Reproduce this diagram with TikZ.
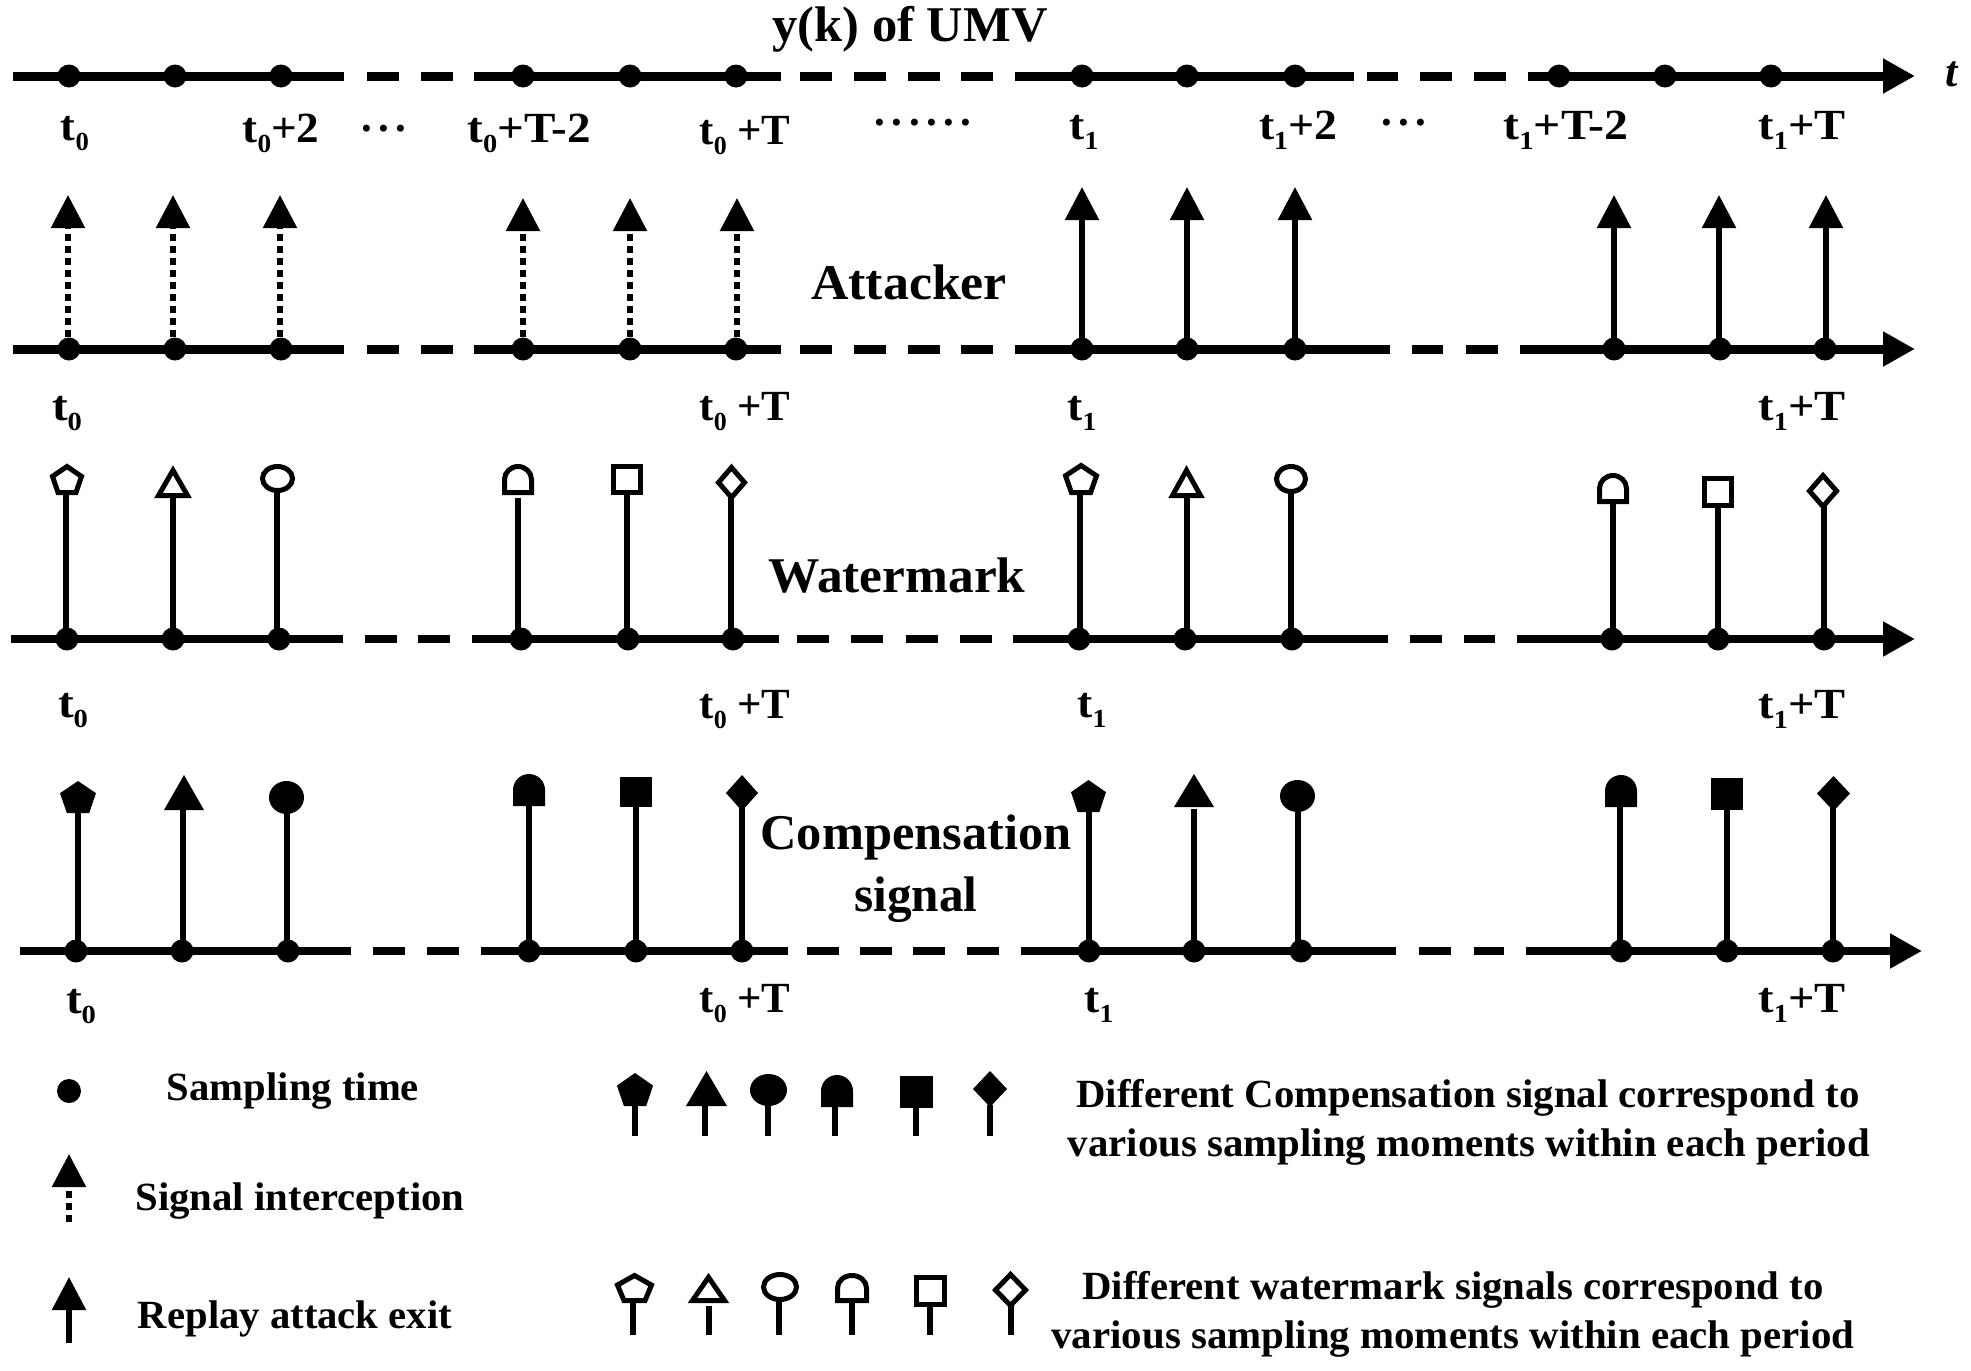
\documentclass[tikz,border=0pt]{standalone}
\usepackage{fontspec}
\usepackage{graphicx}
\setmainfont{Liberation Serif}
\usetikzlibrary{arrows.meta}
\tikzset{
  dotnode/.style={circle,fill=black,inner sep=0pt,minimum size=23pt},
  axisA/.style={line width=9pt,line cap=butt},
  axisB/.style={line width=8pt,line cap=butt},
  stemline/.style={line width=5.5pt,line cap=butt},
  dotline/.style={line width=5.5pt,dash pattern=on 7pt off 5pt},
  headA/.style={-{Triangle[length=33pt,width=33pt]}},
  axhead/.style={-{Triangle[length=32pt,width=#1]}},
  symf/.style={fill=black,draw=none},
  symo/.style={fill=white,draw=black,line width=5pt,line join=miter},
  lbl/.style={anchor=base,inner sep=0pt,font=\fontsize{43}{50}\selectfont\bfseries},
  ttl/.style={anchor=base,inner sep=0pt,font=\fontsize{50}{58}\selectfont\bfseries},
  leg/.style={anchor=base,inner sep=0pt,font=\fontsize{40}{48}\selectfont\bfseries}
}
\newcommand{\fitw}[2]{\resizebox{#1pt}{\height}{#2}}
\newcommand{\sbs}[1]{\raisebox{-10pt}{\fontsize{26}{30}\selectfont #1}}
\newcommand{\dotgap}{\hskip6.4pt}
% symbol geometry: outer box x1 x2 y1 y2
\newcommand{\mkbox}[5]{%
  \pgfmathsetmacro\xa{#1+#5}\pgfmathsetmacro\xb{#2-#5}%
  \pgfmathsetmacro\ya{#3+#5}\pgfmathsetmacro\yb{#4-#5}%
  \pgfmathsetmacro\xm{(\xa+\xb)/2}\pgfmathsetmacro\ym{(\ya+\yb)/2}%
  \pgfmathsetmacro\rx{(\xb-\xa)/2}\pgfmathsetmacro\ry{(\yb-\ya)/2}}
\newcommand{\drawpent}{\pgfmathsetmacro\ys{\ya+0.38*(\yb-\ya)}\pgfmathsetmacro\xl{\xm-0.62*\rx}\pgfmathsetmacro\xr{\xm+0.62*\rx}%
  \path[cursym] (\xm,\ya)--(\xb,\ys)--(\xr,\yb)--(\xl,\yb)--(\xa,\ys)--cycle;}
\newcommand{\drawtri}{\pgfmathsetmacro\ytt{\ya+\triextra*1.6}\pgfmathsetmacro\xll{\xa+\triextra}\pgfmathsetmacro\xrr{\xb-\triextra}%
  \path[cursym] (\xm,\ytt)--(\xrr,\yb)--(\xll,\yb)--cycle;}
\newcommand{\drawell}{\path[cursym] (\xm,\ym) ellipse [x radius=\rx pt,y radius=\ry pt];}
\newcommand{\drawarch}{\path[cursym] (\xa,\yb)--(\xb,\yb)--(\xb,\ym) arc [start angle=0,end angle=180,x radius=\rx pt,y radius=\ry pt]--cycle;}
\newcommand{\drawsq}{\path[cursym] (\xa,\ya) rectangle (\xb,\yb);}
\newcommand{\drawdia}{\path[cursym] (\xm,\ya)--(\xb,\ym)--(\xm,\yb)--(\xa,\ym)--cycle;}
\newcommand{\SymF}[5]{\tikzset{cursym/.style={symf}}\def\triextra{0}\mkbox{#2}{#3}{#4}{#5}{0}\csname draw#1\endcsname}
\newcommand{\SymO}[5]{\tikzset{cursym/.style={symo}}\def\triextra{3}\mkbox{#2}{#3}{#4}{#5}{2.5}\csname draw#1\endcsname}
% stem from a named dot straight up to a named end point
\newcommand{\Stem}[3]{\coordinate (#1-top) at (#2,#3);\draw[stemline] (#1-top |- #1) -- (#1-top);}
\newcommand{\UpArrow}[3]{\coordinate (#1-tip) at (#2,#3);\draw[stemline,headA] (#1-tip |- #1) -- (#1-tip);}
\newcommand{\DotArrow}[3]{\coordinate (#1-tip) at (#2,#3);\draw[dotline,headA] (#1-tip |- #1) -- (#1-tip);}
\begin{document}
\begin{tikzpicture}[x=1pt,y=-1pt]
\useasboundingbox (0,0) rectangle (1971,1371);

% ---------- row 1 ----------
\foreach \a/\b in {13/344,367/399,421/453,474/781,800/832,854/886,908/940,961/993,1015/1354,1367/1398,1420/1452,1474/1506}
  \draw[axisA] (\a,76) -- (\b,76);
\coordinate (r1s) at (1528,76);\coordinate (r1e) at (1915,76);
\draw[axisA,axhead=33pt] (r1s) -- (r1e);
\foreach \n/\x in {a1/69,a2/175,a3/281,a4/523,a5/630,a6/736,a7/1082,a8/1187,a9/1295,a10/1559,a11/1665,a12/1771}
  \node[dotnode] (\n) at (\x,76) {};
\node[ttl] (title) at (910,41) {\fitw{275}{y(k) of UMV}};
\node[anchor=base,inner sep=0pt,font=\fontsize{44}{50}\selectfont\bfseries\itshape] (tlab) at (1952,86) {t};
\node[lbl] (l1a) at (75,140) {\fitw{28}{t\sbs{0}}};
\node[lbl] (l1b) at (281,142) {\fitw{77}{t\sbs{0}+2}};
\node[lbl] (l1c) at (384,131) {.\dotgap.\dotgap.};
\node[lbl] (l1d) at (529,142) {\fitw{123}{t\sbs{0}+T-2}};
\node[lbl] (l1e) at (745,144) {\fitw{91}{t\sbs{0} +T}};
\node[lbl] (l1f) at (923,125) {.\dotgap.\dotgap.\dotgap.\dotgap.\dotgap.};
\node[lbl] (l1g) at (1084,139) {\fitw{29}{t\sbs{1}}};
\node[lbl] (l1h) at (1298,139) {\fitw{78}{t\sbs{1}+2}};
\node[lbl] (l1i) at (1404,125) {.\dotgap.\dotgap.};
\node[lbl] (l1j) at (1566,139) {\fitw{125}{t\sbs{1}+T-2}};
\node[lbl] (l1k) at (1802,139) {\fitw{87}{t\sbs{1}+T}};

% ---------- row 2 : attacker ----------
\foreach \a/\b in {13/344,367/399,421/453,474/781,800/832,854/886,908/940,961/993,1015/1390,1412/1443,1466/1498}
  \draw[axisA] (\a,349) -- (\b,349);
\coordinate (r2s) at (1520,349);\coordinate (r2e) at (1915,349);
\draw[axisA,axhead=33pt] (r2s) -- (r2e);
\foreach \n/\x in {b1/69,b2/175,b3/281,b4/523,b5/630,b6/736,b7/1082,b8/1187,b9/1295,b10/1614,b11/1720,b12/1825}
  \node[dotnode] (\n) at (\x,349) {};
\DotArrow{b1}{68}{195}\DotArrow{b2}{173}{195}\DotArrow{b3}{280}{195}
\DotArrow{b4}{523}{198}\DotArrow{b5}{630}{198}\DotArrow{b6}{737}{198}
\UpArrow{b7}{1082}{187}\UpArrow{b8}{1187}{187}\UpArrow{b9}{1295}{187}
\UpArrow{b10}{1614}{195}\UpArrow{b11}{1719}{195}\UpArrow{b12}{1826}{195}
\node[ttl] (attacker) at (909,299) {\fitw{196}{Attacker}};
\node[lbl] (l2a) at (67,420) {\fitw{30}{t\sbs{0}}};
\node[lbl] (l2b) at (745,420) {\fitw{91}{t\sbs{0} +T}};
\node[lbl] (l2c) at (1082,420) {\fitw{29}{t\sbs{1}}};
\node[lbl] (l2d) at (1802,420) {\fitw{87}{t\sbs{1}+T}};

% ---------- row 3 : watermark ----------
\foreach \a/\b in {11/343,365/397,418/450,472/779,797/829,851/883,906/938,960/992,1013/1388,1410/1442,1464/1495}
  \draw[axisB] (\a,639) -- (\b,639);
\coordinate (r3s) at (1517,639);\coordinate (r3e) at (1915,639);
\draw[axisB,axhead=33pt] (r3s) -- (r3e);
\foreach \n/\x in {c1/67,c2/173,c3/279,c4/521,c5/628,c6/733,c7/1079,c8/1185,c9/1292,c10/1612,c11/1718,c12/1824}
  \node[dotnode] (\n) at (\x,639) {};
\Stem{c1}{66}{493}\Stem{c2}{173}{496}\Stem{c3}{277}{491}
\Stem{c4}{518}{498}\Stem{c5}{627}{493}\Stem{c6}{731}{496}
\Stem{c7}{1080}{493}\Stem{c8}{1187}{496}\Stem{c9}{1291}{492}
\Stem{c10}{1613}{502}\Stem{c11}{1718}{506}\Stem{c12}{1824}{505}
\SymO{pent}{50}{84}{464}{495}\SymO{tri}{153}{193}{463}{498}\SymO{ell}{260}{295}{464}{493}
\SymO{arch}{502}{534}{464}{495}\SymO{sq}{611}{643}{464}{495}\SymO{dia}{716}{747}{465}{500}
\SymO{pent}{1063}{1099}{463}{495}\SymO{tri}{1167}{1206}{463}{498}\SymO{ell}{1274}{1308}{464}{494}
\SymO{arch}{1597}{1629}{473}{504}\SymO{sq}{1702}{1734}{476}{508}\SymO{dia}{1807}{1839}{473}{509}
\node[ttl] (watermark) at (897,592) {\fitw{257}{Watermark}};
\node[lbl] (l3a) at (73,717) {\fitw{30}{t\sbs{0}}};
\node[lbl] (l3b) at (745,718) {\fitw{91}{t\sbs{0} +T}};
\node[lbl] (l3c) at (1092,717) {\fitw{29}{t\sbs{1}}};
\node[lbl] (l3d) at (1802,718) {\fitw{87}{t\sbs{1}+T}};

% ---------- row 4 : compensation ----------
\foreach \a/\b in {20/351,373/405,427/459,481/788,807/839,860/892,913/945,967/999,1021/1396,1419/1451,1474/1504}
  \draw[axisB] (\a,951) -- (\b,951);
\coordinate (r4s) at (1526,951);\coordinate (r4e) at (1922,951);
\draw[axisB,axhead=33pt] (r4s) -- (r4e);
\foreach \n/\x in {d1/76,d2/182,d3/288,d4/529,d5/636,d6/742,d7/1089,d8/1194,d9/1301,d10/1621,d11/1727,d12/1833}
  \node[dotnode] (\n) at (\x,951) {};
\Stem{d1}{78}{812}\Stem{d2}{183}{809}\Stem{d3}{287}{812}
\Stem{d4}{529}{805}\Stem{d5}{636}{806}\Stem{d6}{742}{808}
\Stem{d7}{1089}{811}\Stem{d8}{1194}{809}\Stem{d9}{1298}{810}
\Stem{d10}{1620}{806}\Stem{d11}{1727}{809}\Stem{d12}{1833}{808}
\SymF{pent}{60}{96}{781}{813}\SymF{tri}{164}{204}{775}{810}\SymF{ell}{269}{304}{781}{814}
\SymF{arch}{513}{545}{774}{806}\SymF{sq}{620}{652}{777}{807}\SymF{dia}{726}{758}{775}{811}
\SymF{pent}{1071}{1106}{780}{812}\SymF{tri}{1174}{1214}{774}{807}\SymF{ell}{1280}{1315}{780}{812}
\SymF{arch}{1605}{1637}{775}{807}\SymF{sq}{1711}{1743}{778}{810}\SymF{dia}{1817}{1850}{776}{811}
\node[ttl] (comp) at (916,849) {\fitw{311}{Compensation}};
\node[ttl] (sig) at (916,911) {\fitw{123}{signal}};
\node[lbl] (l4a) at (81,1013) {\fitw{30}{t\sbs{0}}};
\node[lbl] (l4b) at (745,1012) {\fitw{91}{t\sbs{0} +T}};
\node[lbl] (l4c) at (1099,1012) {\fitw{29}{t\sbs{1}}};
\node[lbl] (l4d) at (1802,1012) {\fitw{87}{t\sbs{1}+T}};

% ---------- legend ----------
\node[dotnode,minimum size=24pt] (ldot) at (69,1091) {};
\node[leg] (lt1) at (293,1100) {\fitw{252}{Sampling time}};
\coordinate (la1s) at (69,1222);\coordinate (la1e) at (69,1154);
\draw[dotline,headA] (la1s) -- (la1e);
\node[leg] (lt2) at (300,1210) {\fitw{329}{Signal interception}};
\coordinate (la2s) at (69,1343);\coordinate (la2e) at (69,1277);
\draw[stemline,headA] (la2s) -- (la2e);
\node[leg] (lt3) at (295,1328) {\fitw{314}{Replay attack exit}};

% filled legend symbols
\foreach \n/\x/\t in {e1/635/1105,e2/705/1105,e3/768/1104,e4/835/1106,e5/916/1107,e6/990/1105}{
  \coordinate (\n-b) at (\x,1136);\coordinate (\n-t) at (\x,\t);
  \draw[stemline] (\n-b) -- (\n-t);}
\SymF{pent}{617}{653}{1073}{1106}\SymF{tri}{686}{727}{1071}{1106}\SymF{ell}{750}{787}{1074}{1106}
\SymF{arch}{821}{853}{1075}{1107}\SymF{sq}{900}{933}{1076}{1108}\SymF{dia}{973}{1007}{1071}{1107}
% outlined legend symbols
\foreach \n/\x/\t in {f1/633/1302,f2/709/1306,f3/779/1300,f4/852/1302,f5/930/1306,f6/1011/1305}{
  \coordinate (\n-b) at (\x,1335);\coordinate (\n-t) at (\x,\t);
  \draw[stemline] (\n-b) -- (\n-t);}
\SymO{pent}{615}{654}{1273}{1303}\SymO{tri}{687}{730}{1270}{1303}\SymO{ell}{761}{799}{1272}{1302}
\SymO{arch}{835}{869}{1273}{1303}\SymO{sq}{914}{947}{1275}{1307}\SymO{dia}{993}{1028}{1272}{1308}

\node[leg] (lt4) at (1468,1107) {\fitw{783}{Different Compensation signal correspond to}};
\node[leg] (lt5) at (1469,1156) {\fitw{802}{various sampling moments within each period}};
\node[leg] (lt6) at (1453,1299) {\fitw{741}{Different watermark signals correspond to}};
\node[leg] (lt7) at (1453,1348) {\fitw{803}{various sampling moments within each period}};
\end{tikzpicture}
\end{document}
